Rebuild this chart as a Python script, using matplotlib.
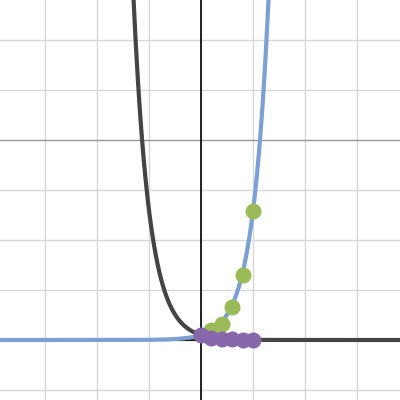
import numpy as np
import matplotlib.pyplot as plt

k = 3.25
green_x = [0.2, 0.4, 0.6, 0.8, 1.0]
green_y = [2.0, 3.2, 6.6, 13.0, 25.8]
purple_x = [0.0, 0.2, 0.4, 0.6, 0.8, 1.0]
purple_y = [1.0, 0.5, 0.3, 0.2, 0.1, 0.05]

fig = plt.figure(figsize=(4, 4), dpi=100)
ax = fig.add_axes([0, 0, 1, 1])
ax.set_xlim(-3.87, 3.83)
ax.set_ylim(-12, 68)

for gx in range(-3, 4):
    ax.axvline(gx, color='#d8d8d8', lw=1, zorder=0)
for gy in range(-10, 70, 10):
    ax.axhline(gy, color='#999999' if gy % 40 == 0 else '#d8d8d8', lw=1, zorder=0)
ax.axhline(0, color='black', lw=1.2, zorder=1)
ax.axvline(0, color='black', lw=1.2, zorder=1)

x = np.linspace(-3.9, 3.9, 2000)
ax.plot(x, np.exp(-k * x), color='#444444', lw=3, zorder=2)
ax.plot(x, np.exp(k * x), color='#7ba0d4', lw=3, zorder=3)
ax.scatter(green_x, green_y, s=110, color='#9bbb59', zorder=4)
ax.scatter(purple_x, purple_y, s=110, color='#8866aa', zorder=5)
ax.axis('off')
fig.savefig('out.png', dpi=100)
